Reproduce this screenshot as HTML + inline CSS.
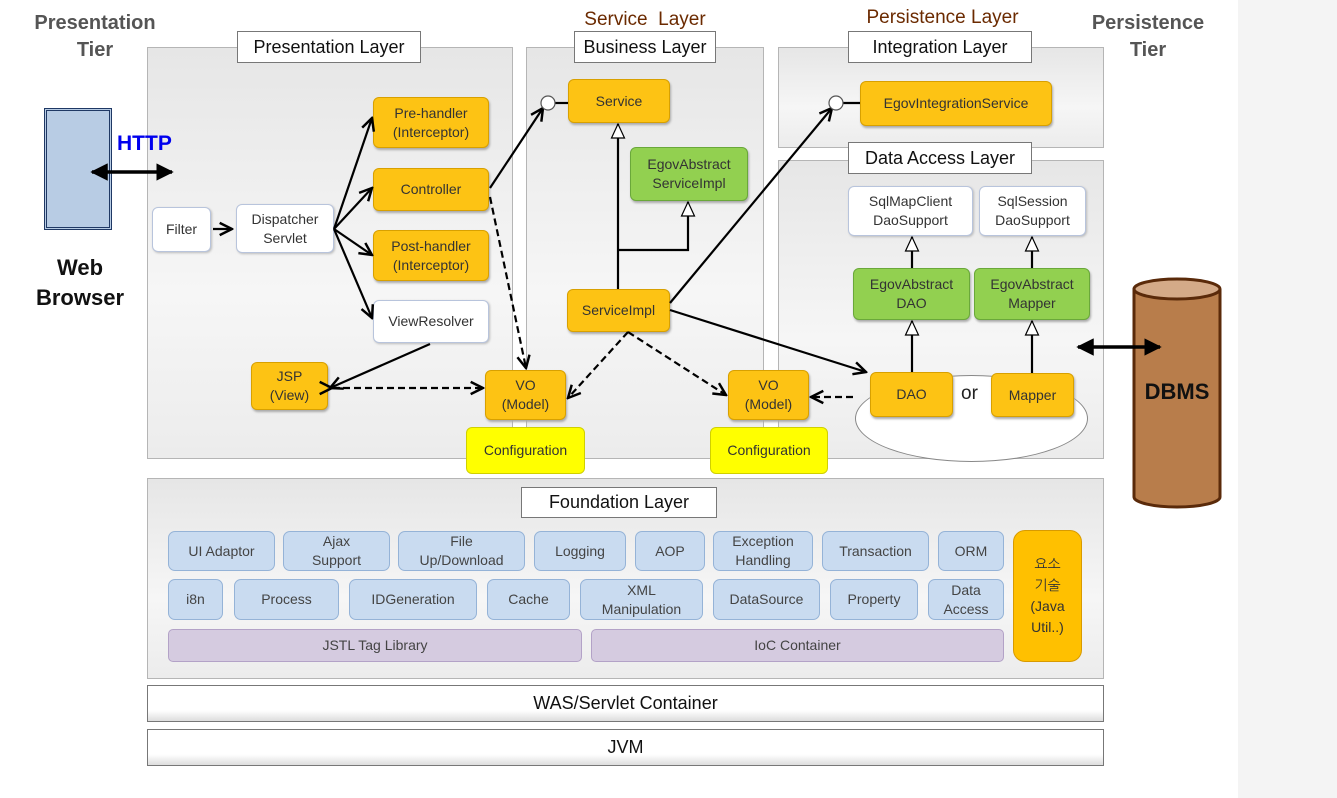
<!DOCTYPE html>
<html><head><meta charset="utf-8"><style>
body{margin:0;width:1337px;height:798px;background:#fff;position:relative;overflow:hidden;font-family:"Liberation Sans","NanumGothic",sans-serif;}
.a{position:absolute;box-sizing:border-box;}
.p{background:linear-gradient(#e6e6e6,#f6f6f6 60%,#ececec);border:1.5px solid #b5b5b5;}
.t{background:#fff;border:1.5px solid #777;display:flex;align-items:center;justify-content:center;font-size:18px;color:#111;}
.n{display:flex;align-items:center;justify-content:center;text-align:center;font-size:14px;line-height:19px;color:#333;border-radius:6px;}
.o{background:#fdc314;border:1px solid #d8a000;box-shadow:1px 2px 2px #aaa;}
.w{background:#fff;border:1px solid #b8c4dc;box-shadow:1px 1px 2px #bbb;}
.g{background:#92d050;border:1px solid #6aa83a;box-shadow:1px 2px 2px #aaa;}
.y{background:#ffff00;border:1px solid #d0d000;}
.b{background:#c9dbf0;border:1px solid #95b3d7;color:#444;border-radius:7px;}
.v{background:#d5cbe0;border:1px solid #b3a2c7;color:#444;border-radius:5px;}
.h{font-weight:bold;color:#555;font-size:20px;text-align:center;line-height:27px;}
.br{color:#6b2a00;font-size:19px;text-align:center;}
</style></head><body>
<div class="a" style="left:1238px;top:0;width:99px;height:798px;background:#f4f4f4"></div>

<div class="a h" style="left:15px;top:10px;width:160px">Presentation<br>Tier</div>
<div class="a h" style="left:1068px;top:10px;width:160px">Persistence<br>Tier</div>
<div class="a br" style="left:555px;top:9px;width:180px">Service&nbsp; Layer</div>
<div class="a br" style="left:840px;top:7px;width:205px">Persistence Layer</div>

<div class="a p" style="left:147px;top:47px;width:366px;height:412px"></div>
<div class="a p" style="left:526px;top:47px;width:238px;height:412px"></div>
<div class="a p" style="left:778px;top:47px;width:326px;height:101px"></div>
<div class="a p" style="left:778px;top:160px;width:326px;height:299px"></div>
<div class="a p" style="left:147px;top:478px;width:957px;height:201px"></div>
<div class="a p t" style="left:147px;top:685px;width:957px;height:37px;background:linear-gradient(#fff,#fff 70%,#ddd)">WAS/Servlet Container</div>
<div class="a p t" style="left:147px;top:729px;width:957px;height:37px;background:linear-gradient(#fff,#fff 70%,#ddd)">JVM</div>

<div class="a t" style="left:237px;top:31px;width:184px;height:32px">Presentation Layer</div>
<div class="a t" style="left:574px;top:31px;width:142px;height:32px">Business Layer</div>
<div class="a t" style="left:848px;top:31px;width:184px;height:32px">Integration Layer</div>
<div class="a t" style="left:848px;top:142px;width:184px;height:32px">Data Access Layer</div>
<div class="a t" style="left:521px;top:487px;width:196px;height:31px">Foundation Layer</div>

<div class="a" style="left:44px;top:108px;width:68px;height:122px;background:#b8cce4;border:3px double #1f3864"></div>
<div class="a" style="left:117px;top:132px;font-size:21px;font-weight:bold;color:#0000ee">HTTP</div>
<div class="a" style="left:20px;top:253px;width:120px;text-align:center;font-size:22px;font-weight:bold;line-height:30px;color:#111">Web<br>Browser</div>

<div class="a n w" style="left:152px;top:207px;width:59px;height:45px">Filter</div>
<div class="a n w" style="left:236px;top:204px;width:98px;height:49px">Dispatcher<br>Servlet</div>
<div class="a n o" style="left:373px;top:97px;width:116px;height:51px">Pre-handler<br>(Interceptor)</div>
<div class="a n o" style="left:373px;top:168px;width:116px;height:43px">Controller</div>
<div class="a n o" style="left:373px;top:230px;width:116px;height:51px">Post-handler<br>(Interceptor)</div>
<div class="a n w" style="left:373px;top:300px;width:116px;height:43px">ViewResolver</div>
<div class="a n o" style="left:251px;top:362px;width:77px;height:48px">JSP<br>(View)</div>
<div class="a n o" style="left:485px;top:370px;width:81px;height:50px">VO<br>(Model)</div>
<div class="a n y" style="left:466px;top:427px;width:119px;height:47px">Configuration</div>
<div class="a n o" style="left:568px;top:79px;width:102px;height:44px">Service</div>
<div class="a n g" style="left:630px;top:147px;width:118px;height:54px">EgovAbstract<br>ServiceImpl</div>
<div class="a n o" style="left:567px;top:289px;width:103px;height:43px">ServiceImpl</div>
<div class="a n o" style="left:728px;top:370px;width:81px;height:50px">VO<br>(Model)</div>
<div class="a n y" style="left:710px;top:427px;width:118px;height:47px">Configuration</div>
<div class="a n o" style="left:860px;top:81px;width:192px;height:45px">EgovIntegrationService</div>
<div class="a n w" style="left:848px;top:186px;width:125px;height:50px">SqlMapClient<br>DaoSupport</div>
<div class="a n w" style="left:979px;top:186px;width:107px;height:50px">SqlSession<br>DaoSupport</div>
<div class="a n g" style="left:853px;top:268px;width:117px;height:52px">EgovAbstract<br>DAO</div>
<div class="a n g" style="left:974px;top:268px;width:116px;height:52px">EgovAbstract<br>Mapper</div>
<div class="a" style="left:855px;top:375px;width:233px;height:87px;border-radius:50%;background:#fff;border:1px solid #888"></div>
<div class="a n o" style="left:870px;top:372px;width:83px;height:45px">DAO</div>
<div class="a" style="left:961px;top:383px;font-size:19px;color:#222">or</div>
<div class="a n o" style="left:991px;top:373px;width:83px;height:44px">Mapper</div>

<!-- DBMS -->
<svg class="a" style="left:1125px;top:275px" width="105" height="240">
<path d="M9 14 V222 A43 10 0 0 0 95 222 V14" fill="#b87d4b" stroke="#5a2a0a" stroke-width="3"/>
<ellipse cx="52" cy="14" rx="43" ry="10" fill="#d4aa88" stroke="#5a2a0a" stroke-width="3"/>
<text x="52" y="124" text-anchor="middle" font-family="Liberation Sans" font-weight="bold" font-size="22" fill="#111">DBMS</text>
</svg>

<!-- foundation -->
<div class="a n b" style="left:168px;top:531px;width:107px;height:40px">UI Adaptor</div>
<div class="a n b" style="left:283px;top:531px;width:107px;height:40px">Ajax<br>Support</div>
<div class="a n b" style="left:398px;top:531px;width:127px;height:40px">File<br>Up/Download</div>
<div class="a n b" style="left:534px;top:531px;width:92px;height:40px">Logging</div>
<div class="a n b" style="left:635px;top:531px;width:70px;height:40px">AOP</div>
<div class="a n b" style="left:713px;top:531px;width:100px;height:40px">Exception<br>Handling</div>
<div class="a n b" style="left:822px;top:531px;width:107px;height:40px">Transaction</div>
<div class="a n b" style="left:938px;top:531px;width:66px;height:40px">ORM</div>
<div class="a n b" style="left:168px;top:579px;width:55px;height:41px">i8n</div>
<div class="a n b" style="left:234px;top:579px;width:105px;height:41px">Process</div>
<div class="a n b" style="left:349px;top:579px;width:128px;height:41px">IDGeneration</div>
<div class="a n b" style="left:487px;top:579px;width:83px;height:41px">Cache</div>
<div class="a n b" style="left:580px;top:579px;width:123px;height:41px">XML<br>Manipulation</div>
<div class="a n b" style="left:713px;top:579px;width:107px;height:41px">DataSource</div>
<div class="a n b" style="left:830px;top:579px;width:88px;height:41px">Property</div>
<div class="a n b" style="left:928px;top:579px;width:76px;height:41px">Data<br>Access</div>
<div class="a n v" style="left:168px;top:629px;width:414px;height:33px">JSTL Tag Library</div>
<div class="a n v" style="left:591px;top:629px;width:413px;height:33px">IoC Container</div>
<div class="a n" style="left:1013px;top:530px;width:69px;height:132px;background:#ffc000;border:1px solid #d89a00;border-radius:12px;color:#333;line-height:21px">요소<br>기술<br>(Java<br>Util..)</div>

<svg class="a" style="left:0;top:0" width="1337" height="798">
<defs>
<marker id="ar" viewBox="0 0 10 10" refX="9" refY="5" markerWidth="7" markerHeight="7" orient="auto"><path d="M1 1 L9 5 L1 9" fill="none" stroke="#000" stroke-width="1.6"/></marker>
<marker id="fa" viewBox="0 0 10 10" refX="9" refY="5" markerWidth="5" markerHeight="5" orient="auto-start-reverse"><path d="M0 0 L10 5 L0 10 Z" fill="#000"/></marker>
<marker id="tr" viewBox="0 0 16 16" refX="15" refY="8" markerWidth="16" markerHeight="16" markerUnits="userSpaceOnUse" orient="auto"><path d="M1 1.5 L15 8 L1 14.5 Z" fill="#fff" stroke="#000" stroke-width="1.2"/></marker>
</defs>
<g stroke="#000" stroke-width="2.2" fill="none">
<line x1="92" y1="172" x2="172" y2="172" stroke-width="3.5" marker-start="url(#fa)" marker-end="url(#fa)"/>
<line x1="1078" y1="347" x2="1160" y2="347" stroke-width="3.5" marker-start="url(#fa)" marker-end="url(#fa)"/>
<line x1="213" y1="229" x2="232" y2="229" marker-end="url(#ar)"/>
<line x1="334" y1="229" x2="372" y2="118" marker-end="url(#ar)"/>
<line x1="334" y1="229" x2="372" y2="188" marker-end="url(#ar)"/>
<line x1="334" y1="229" x2="372" y2="255" marker-end="url(#ar)"/>
<line x1="334" y1="229" x2="372" y2="318" marker-end="url(#ar)"/>
<line x1="490" y1="188" x2="543" y2="108" marker-end="url(#ar)"/>
<line x1="555" y1="103" x2="568" y2="103"/>
<line x1="490" y1="197" x2="526" y2="368" stroke-dasharray="7,4" marker-end="url(#ar)"/>
<line x1="430" y1="344" x2="330" y2="388" marker-end="url(#ar)"/>
<line x1="332" y1="388" x2="483" y2="388" stroke-dasharray="7,4" marker-end="url(#ar)"/>
<line x1="332" y1="388" x2="340" y2="388" marker-start="url(#ar)"/>
<line x1="618" y1="289" x2="618" y2="124" marker-end="url(#tr)"/>
<polyline points="618,250 688,250 688,202" marker-end="url(#tr)"/>
<line x1="628" y1="332" x2="568" y2="398" stroke-dasharray="7,4" marker-end="url(#ar)"/>
<line x1="628" y1="332" x2="726" y2="395" stroke-dasharray="7,4" marker-end="url(#ar)"/>
<line x1="670" y1="303" x2="832" y2="108" marker-end="url(#ar)"/>
<line x1="843" y1="103" x2="860" y2="103"/>
<line x1="670" y1="310" x2="866" y2="372" marker-end="url(#ar)"/>
<line x1="853" y1="397" x2="811" y2="397" stroke-dasharray="7,4" marker-end="url(#ar)"/>
<line x1="912" y1="372" x2="912" y2="321" marker-end="url(#tr)"/>
<line x1="912" y1="268" x2="912" y2="237" marker-end="url(#tr)"/>
<line x1="1032" y1="373" x2="1032" y2="321" marker-end="url(#tr)"/>
<line x1="1032" y1="268" x2="1032" y2="237" marker-end="url(#tr)"/>
</g>
<circle cx="548" cy="103" r="7" fill="#fff" stroke="#555" stroke-width="1.2"/>
<circle cx="836" cy="103" r="7" fill="#fff" stroke="#555" stroke-width="1.2"/>
</svg>
</body></html>
